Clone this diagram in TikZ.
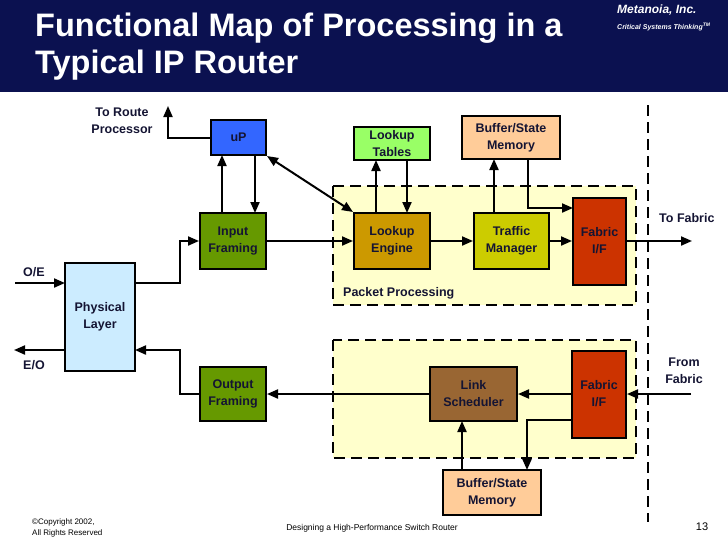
\documentclass[tikz,border=0pt]{standalone}
\usepackage{fontspec}
\setmainfont{Liberation Sans}
\usetikzlibrary{arrows.meta}
\definecolor{navy}{HTML}{0B1150}
\definecolor{ink}{HTML}{141433}
\definecolor{cup}{HTML}{3366FF}
\definecolor{clt}{HTML}{99FF66}
\definecolor{cbuf}{HTML}{FFCC99}
\definecolor{cin}{HTML}{669900}
\definecolor{cle}{HTML}{CC9900}
\definecolor{ctm}{HTML}{CCCC00}
\definecolor{cfab}{HTML}{CC3300}
\definecolor{cphy}{HTML}{CCECFF}
\definecolor{cls}{HTML}{996633}
\definecolor{creg}{HTML}{FFFFCC}
\begin{document}
\begin{tikzpicture}[x=1pt,y=-1pt,
 box/.style={draw,line width=2pt,align=center,text=ink,font=\bfseries\fontsize{12.5}{17}\selectfont,inner sep=0pt},
 lbl/.style={align=center,text=ink,font=\bfseries\fontsize{12.5}{17}\selectfont,inner sep=0pt},
 ar/.style={line width=2pt,-{Triangle[length=11pt,width=9pt]}},
 dar/.style={line width=2pt,{Triangle[length=11pt,width=9pt]}-{Triangle[length=11pt,width=9pt]}},
 reg/.style={fill=creg,draw,line width=2pt,dash pattern=on 11pt off 6pt}]
\useasboundingbox (0,0) rectangle (728,546);
\fill[navy] (0,0) rectangle (728,92);
\node[anchor=west,text=white,align=left,font=\bfseries\fontsize{32.5}{37}\selectfont,inner sep=0pt] (title) at (35,47) {Functional Map of Processing in a\\Typical IP Router};
\node[anchor=north west,text=white,font=\bfseries\itshape\fontsize{12}{14}\selectfont,inner sep=0pt] (meta) at (617,5) {Metanoia, Inc.};
\node[anchor=north west,text=white,font=\bfseries\itshape\fontsize{7}{8}\selectfont,inner sep=0pt] (crit) at (617,23) {Critical Systems Thinking\textsuperscript{TM}};
% regions
\draw[reg] (333,186) rectangle (636,305);
\draw[reg] (333,340) rectangle (636,458);
\draw[line width=2pt,dash pattern=on 11pt off 6pt] (648,105) -- (648,522);
% boxes
\node[box,fill=cup,minimum width=55pt,minimum height=35pt] (up) at (238.5,137.5) {uP};
\node[box,fill=clt,minimum width=76pt,minimum height=33pt] (lt) at (392,143.5) {Lookup\\Tables};
\node[box,fill=cbuf,minimum width=98pt,minimum height=43pt] (bm1) at (511,137.5) {Buffer/State\\Memory};
\node[box,fill=cin,minimum width=66pt,minimum height=56pt] (if) at (233,241) {Input\\Framing};
\node[box,fill=cle,minimum width=76pt,minimum height=56pt] (le) at (392,241) {Lookup\\Engine};
\node[box,fill=ctm,minimum width=75pt,minimum height=56pt] (tm) at (511.5,241) {Traffic\\Manager};
\node[box,fill=cfab,minimum width=53pt,minimum height=87pt] (f1) at (599.5,241) {Fabric\\I/F};
\node[box,fill=cphy,minimum width=70pt,minimum height=108pt] (phy) at (100,317) {Physical\\Layer};
\node[box,fill=cin,minimum width=66pt,minimum height=54pt] (of) at (233,394) {Output\\Framing};
\node[box,fill=cls,minimum width=87pt,minimum height=54pt] (ls) at (473.5,394) {Link\\Scheduler};
\node[box,fill=cfab,minimum width=54pt,minimum height=87pt] (f2) at (599,394) {Fabric\\I/F};
\node[box,fill=cbuf,minimum width=98pt,minimum height=45pt] (bm2) at (492,492.5) {Buffer/State\\Memory};
% labels
\node[lbl,anchor=west] (pp) at (343,293) {Packet Processing};
\node[lbl] (rp) at (122,121) {To Route\\Processor};
\node[lbl,anchor=west] (tf) at (659,218) {To Fabric};
\node[lbl] (ff) at (684,371) {From\\Fabric};
\node[lbl,anchor=west] (oe) at (23,272) {O/E};
\node[lbl,anchor=west] (eo) at (23,365) {E/O};
\coordinate (rpt) at (168,106);
\coordinate (tfe) at (692,241);
\coordinate (ffs) at (691,394);
\coordinate (oes) at (15,283);
\coordinate (eoe) at (14,350);
% connectors
\draw[ar] (up.west) -- (168,137.5) -- (rpt);
\draw[ar] (222,213) -- (222,155);
\draw[ar] (255,155) -- (255,213);
\draw[dar] (up.south east) -- (le.north west);
\draw[ar] (if.east) -- (le.west);
\draw[ar] (376,213) -- (376,160);
\draw[ar] (407,160) -- (407,213);
\draw[ar] (le.east) -- (tm.west);
\draw[ar] (494,213) -- (494,159);
\draw[ar] (528,159) -- (528,208) -- (573,208);
\draw[ar] (tm.east) -- (f1.west);
\draw[ar] (f1.east) -- (tfe);
\draw[ar] (ffs) -- (f2.east);
\draw[ar] (f2.west) -- (ls.east);
\draw[ar] (ls.west) -- (of.east);
\draw[ar] (572,420) -- (527,420) -- (527,470);
\draw[ar] (462,470) -- (462,421);
\draw[ar] (135,283) -- (180,283) -- (180,241) -- (if.west);
\draw[ar] (of.west) -- (180,394) -- (180,350) -- (135,350);
\draw[ar] (oes) -- (65,283);
\draw[ar] (65,350) -- (eoe);
% footer
\node[anchor=west,align=left,font=\fontsize{8}{11}\selectfont,inner sep=0pt] (cp) at (32,528) {\textcopyright Copyright 2002,\\All Rights Reserved};
\node[font=\fontsize{8.5}{10}\selectfont,inner sep=0pt] (ft) at (372,528) {Designing a High-Performance Switch Router};
\node[font=\fontsize{11}{12}\selectfont,inner sep=0pt] (pg) at (702,527) {13};
\end{tikzpicture}
\end{document}
